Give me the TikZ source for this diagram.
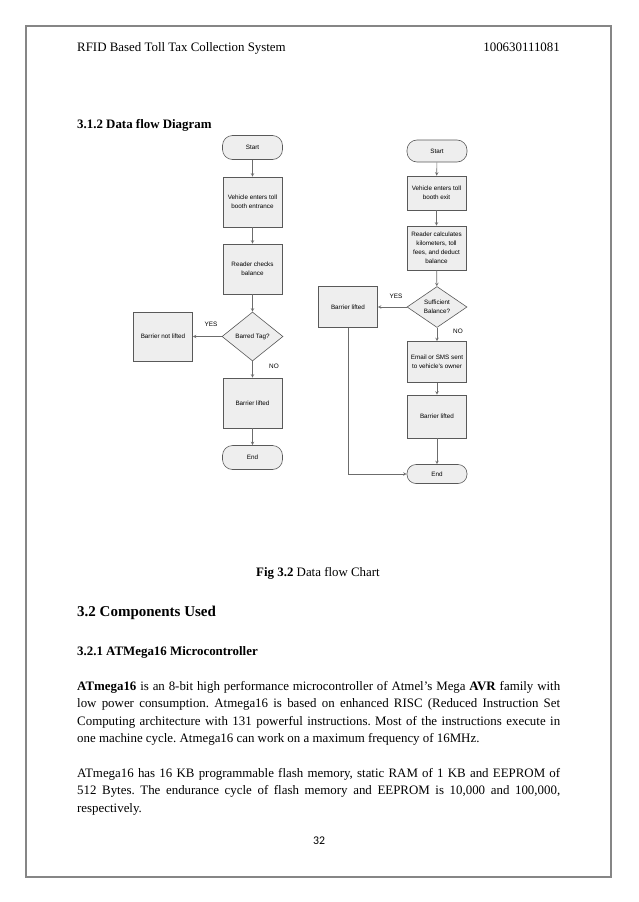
\documentclass[tikz,border=0pt]{standalone}
\usepackage{fontspec}
\setmainfont{Liberation Serif}
\newfontfamily\flowfont{Liberation Sans}
\newfontfamily\pagenumfont{Carlito}
\usetikzlibrary{shapes.geometric}
\frenchspacing
\begin{document}
\begin{tikzpicture}
[x=1pt,y=-1pt,
  boxdecorate/.style={shape=rectangle,draw=gray!70!black,fill=gray!13,line width=0.6pt,
    minimum width=59pt,inner sep=1pt,align=center,font=\flowfont\fontsize{6.3}{9}\selectfont},
  termdecorate/.style={boxdecorate,rounded corners=10pt,minimum width=60pt},
  decidedecorate/.style={boxdecorate,shape=diamond,inner sep=0pt,rounded corners=0pt},
  labeldecorate/.style={inner sep=0pt,font=\flowfont\fontsize{6.4}{8}\selectfont},
  arrowdecorate/.style={->,>=stealth,draw=gray!85!black,line width=0.6pt},
  pagetext/.style={anchor=base west,inner sep=0pt,font=\fontsize{12.9}{15}\selectfont\frenchspacing},
  pageframe/.style={draw=gray!95,line width=1.4pt}]
\useasboundingbox (0,0) rectangle (638,902);
\draw[pageframe] (26,26) rectangle (611,877);
%% page text
\node[pagetext] (header) at (77,51) {RFID Based Toll Tax Collection System};
\node[pagetext,anchor=base east] (rollno) at (560,51) {100630111081};
\node[pagetext] (secdfd) at (77,128) {\textbf{3.1.2 Data flow Diagram}};
\node[pagetext,anchor=base] (caption) at (318,576) {\textbf{Fig 3.2} Data flow Chart};
\node[pagetext,font=\fontsize{15}{18}\selectfont] (seccomp) at (77,616) {\textbf{3.2 Components Used}};
\node[pagetext] (secmcu) at (77,655) {\textbf{3.2.1 ATMega16 Microcontroller}};
\foreach \nodename/\y/\txt in {
  pone/690/{\makebox[483pt][s]{\textbf{ATmega16} is an 8-bit high performance microcontroller of Atmel’s Mega \textbf{AVR} family with}},
  ptwo/707.5/{\makebox[483pt][s]{low power consumption. Atmega16 is based on enhanced RISC (Reduced Instruction Set}},
  pthree/725/{\makebox[483pt][s]{Computing architecture with 131 powerful instructions. Most of the instructions execute in}},
  pfour/742.5/{one machine cycle. Atmega16 can work on a maximum frequency of 16MHz.},
  qone/777/{\makebox[483pt][s]{ATmega16 has 16 KB programmable flash memory, static RAM of 1 KB and EEPROM of}},
  qtwo/794.5/{\makebox[483pt][s]{512 Bytes. The endurance cycle of flash memory and EEPROM is 10,000 and 100,000,}},
  qthree/812/{respectively.}}
{
  \node[pagetext] (\nodename) at (77,\y) {\txt};
}
\node[pagetext,anchor=base,font=\pagenumfont\fontsize{11.8}{14}\selectfont] (pagenum) at (319,844) {32};
%% nodes of the entrance chart
\node (lstart) at (252.5,147.5) [termdecorate,minimum height=24pt] {Start};
\node (lend) at (252.5,457.5) [termdecorate,minimum height=24pt] {End};
\node (lbarred) at (252.5,336.5) [decidedecorate,minimum width=61pt,minimum height=49pt] {Barred Tag?};
\foreach \nodename/\x/\y/\h/\txt in {
  lenter/252.5/202/50/{Vehicle enters toll\\booth entrance},
  lcheck/252.5/269/50/{Reader checks\\balance},
  lnot/163/336.5/49/{Barrier not lifted},
  llifted/252.5/403/50/{Barrier lifted}}
{
  \node (\nodename) at (\x,\y) [boxdecorate,minimum height=\h pt] {\txt};
}
\node[labeldecorate] (lyes) at (211,324) {YES};
\node[labeldecorate] (lno) at (274,366) {NO};
%% nodes of the exit chart
\node (rstart) at (437,151) [termdecorate,minimum height=22pt] {Start};
\node (rend) at (437,474) [termdecorate,minimum height=19pt,rounded corners=9pt] {End};
\node (rsuff) at (437,307) [decidedecorate,minimum width=60pt,minimum height=41pt] {Sufficient\\Balance?};
\foreach \nodename/\x/\y/\h/\txt in {
  rexit/436.5/193/34/{Vehicle enters toll\\booth exit},
  rcalc/436.5/248/44/{Reader calculates\\kilometers, toll\\fees, and deduct\\balance},
  rlifta/348/307/41/{Barrier lifted},
  remail/437/362/41/{Email or SMS sent\\to vehicle’s owner},
  rliftb/437/416.5/43/{Barrier lifted}}
{
  \node (\nodename) at (\x,\y) [boxdecorate,minimum height=\h pt] {\txt};
}
\node[labeldecorate] (ryes) at (396,296) {YES};
\node[labeldecorate] (rno) at (458,331) {NO};
%% edges or lines
\path
\foreach \startnode/\endnode in {lstart/lenter, lenter/lcheck, lcheck/lbarred,
  lbarred/lnot, lbarred/llifted, llifted/lend, rstart/rexit, rexit/rcalc,
  rcalc/rsuff, rsuff/rlifta, rsuff/remail, remail/rliftb, rliftb/rend} {
  (\startnode) edge[arrowdecorate] (\endnode)
};
\draw[arrowdecorate] (rlifta.south) |- (rend.west);
\end{tikzpicture}
\end{document}
